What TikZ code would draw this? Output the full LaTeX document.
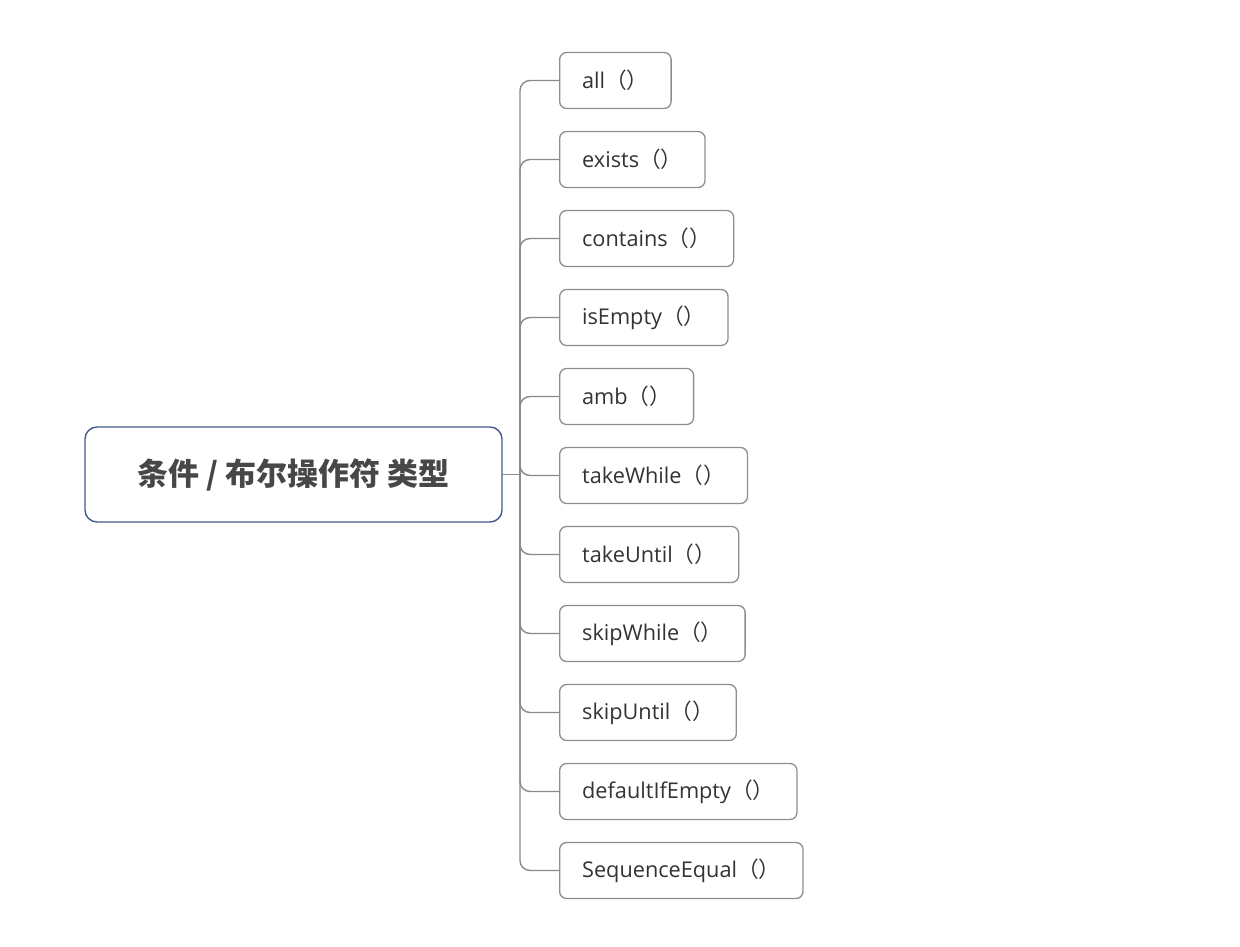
\documentclass[tikz,border=0pt]{standalone}
\usepackage{fontspec}
\setmainfont{Open Sans}
\newfontfamily\cjk{Noto Sans CJK SC}
\definecolor{rootline}{HTML}{445A8C}
\definecolor{boxline}{HTML}{8E8E8E}
\definecolor{linkline}{HTML}{8A8A8A}
\definecolor{txt}{HTML}{333333}
\newcommand{\emptypar}{{\cjk （）}}
\begin{document}
\begin{tikzpicture}[x=1pt, y=-1pt,
    topic/.style ={draw=rootline, line width=1.4pt, rounded corners=12pt, minimum width=417pt, minimum height=95pt, font=\cjk\bfseries\fontsize{31}{36}\selectfont, text=txt!90},
    operator/.style ={draw=boxline, line width=1.3pt, rounded corners=7pt, anchor=west, minimum height=56pt, inner xsep=22.5pt, font=\fontsize{21.7}{26}\selectfont, text=txt},
    link/.style ={draw=linkline, line width=1.4pt}]
   \useasboundingbox (0,0) rectangle (1240,947);
   \node[topic] (root) at (293.5,474.5) {条件 / 布尔操作符 类型};
   \coordinate (trunk) at (520,474.5);
   \foreach \name [count=\i from 0] in {all, exists, contains, isEmpty, amb, takeWhile, takeUntil, skipWhile, skipUntil, defaultIfEmpty, SequenceEqual}
   {
     \node[operator] (op\i) at (559,{80.5+79*\i}) {\name\emptypar};
     \draw[link, rounded corners=10pt] (trunk) |- (op\i.west);
   }
   \draw[link] (root.east) -- (trunk);
 \end{tikzpicture}
\end{document}
